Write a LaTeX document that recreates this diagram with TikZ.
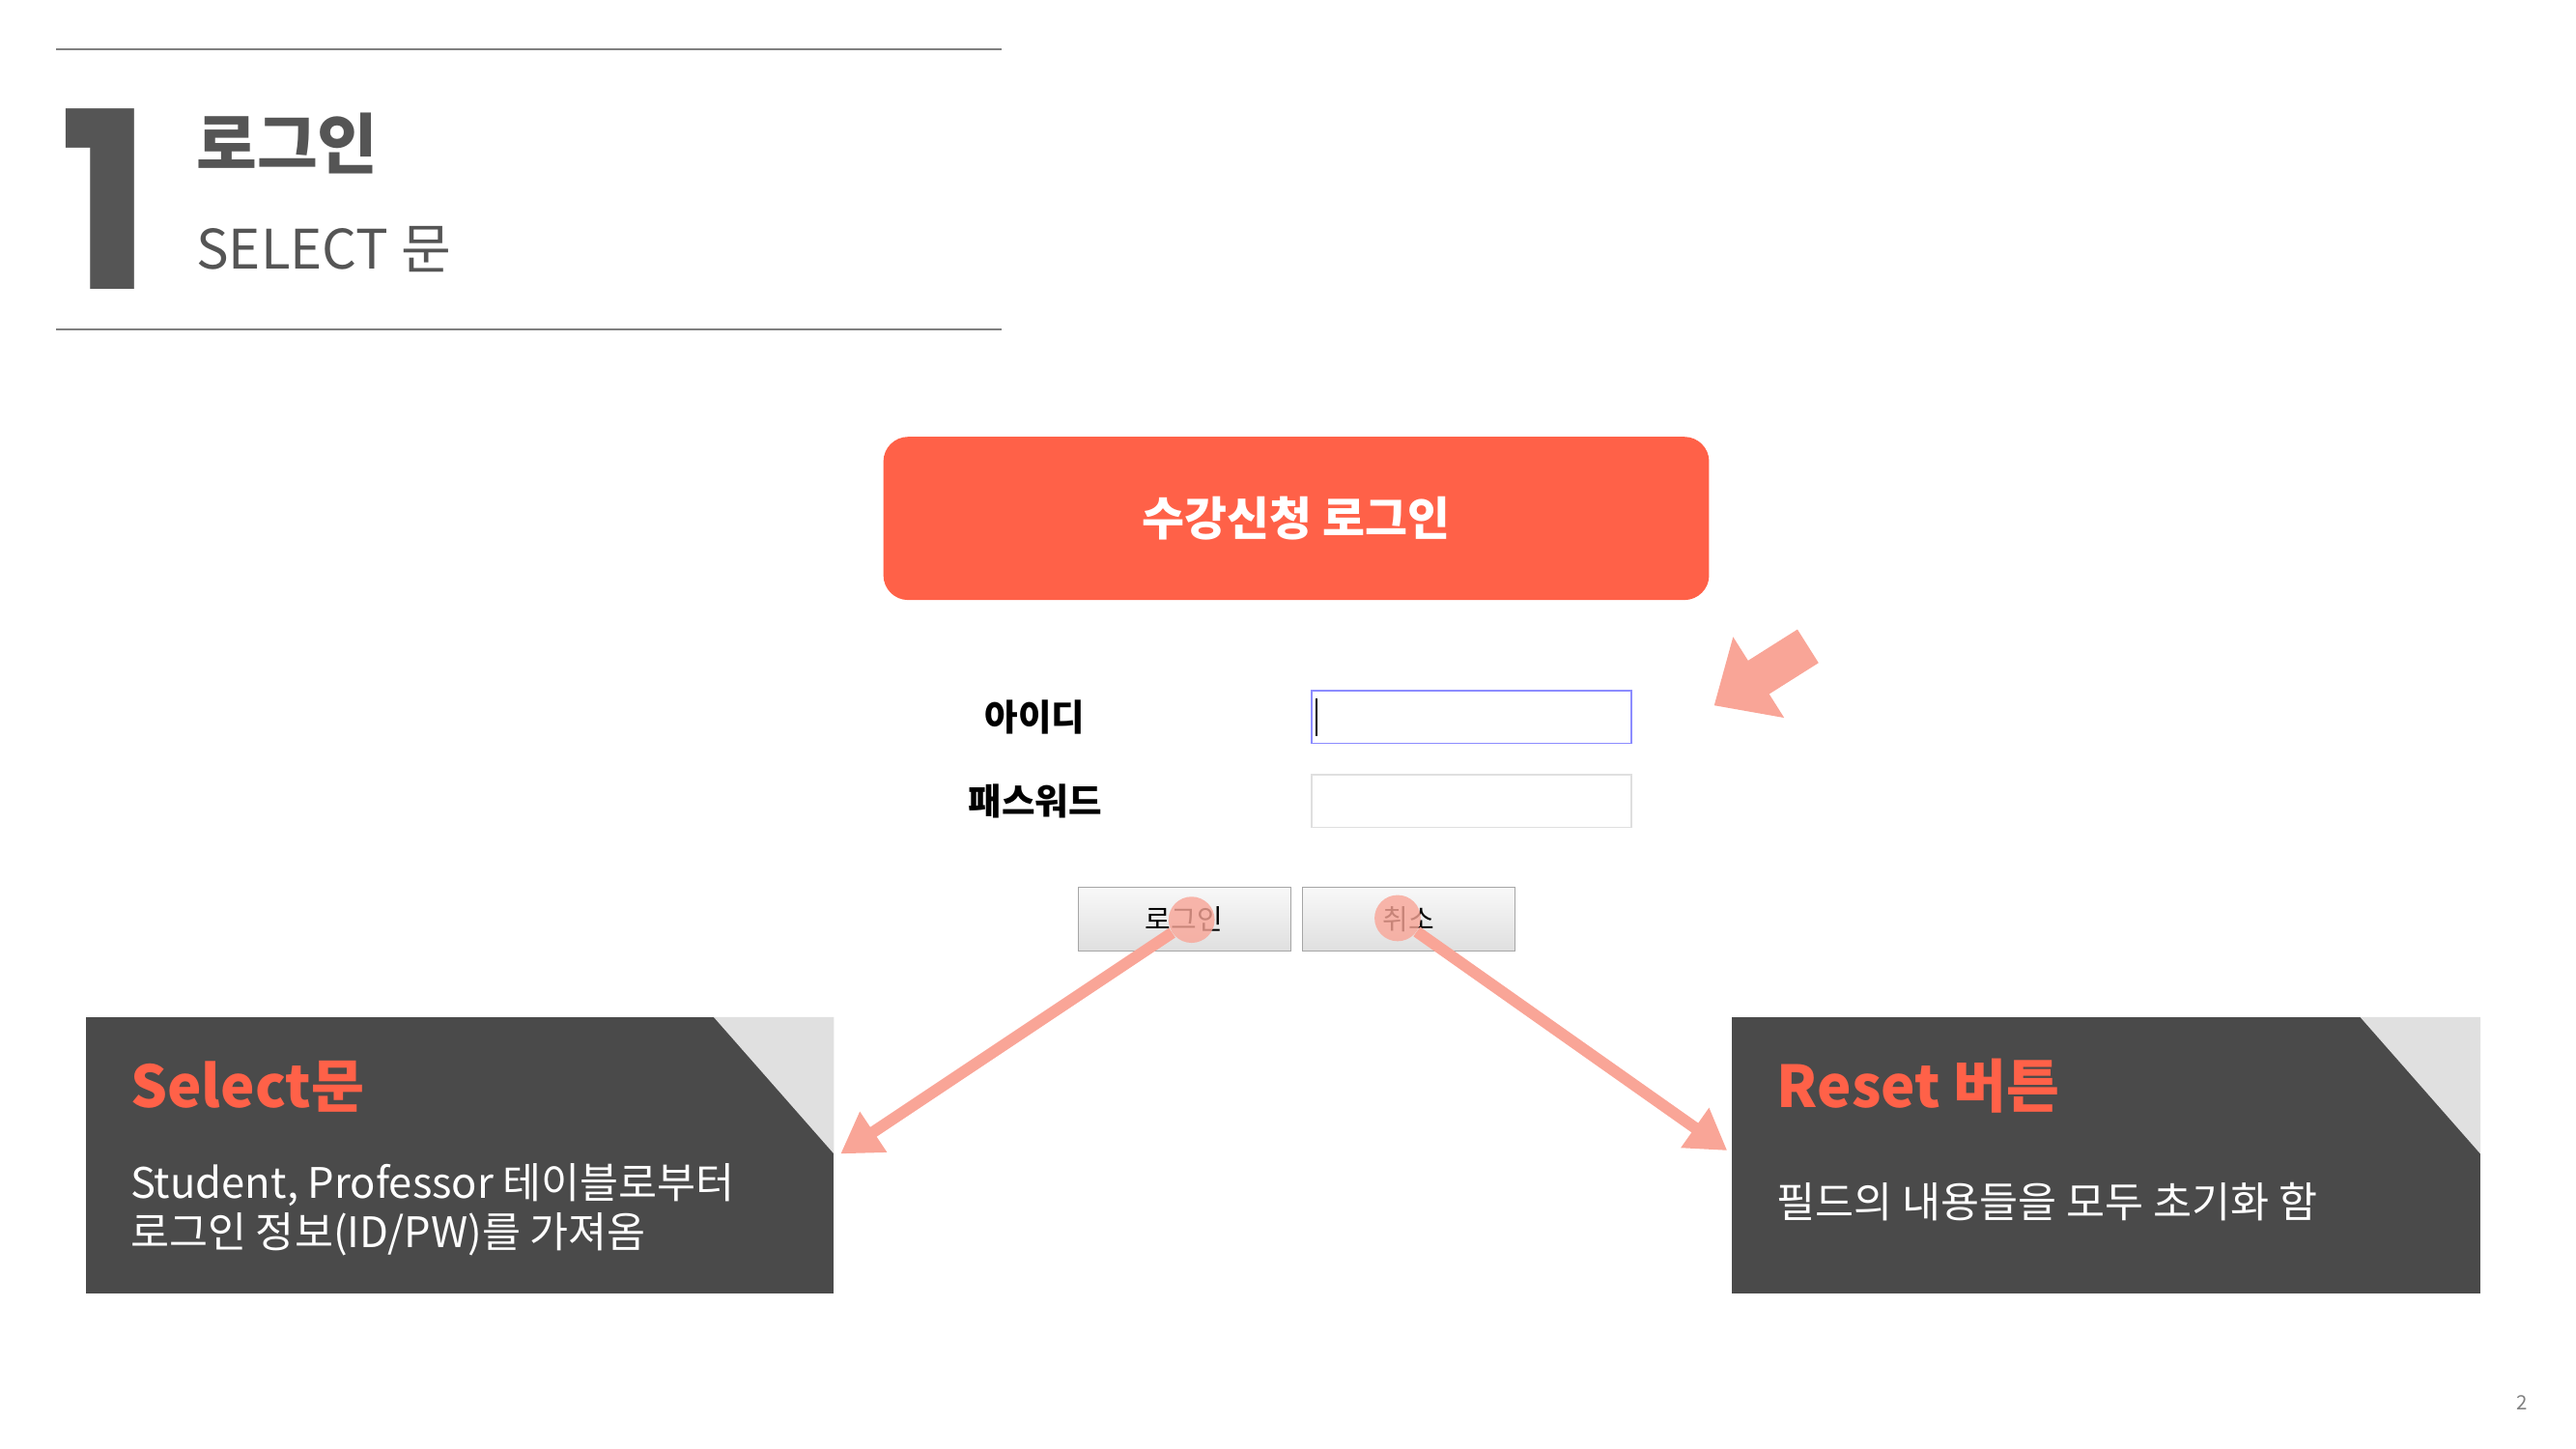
\documentclass[tikz,border=0pt]{standalone}
\usepackage{fontspec}
\setmainfont{Noto Sans CJK KR}
\newfontfamily\onefont{Poppins}[UprightFont=* Bold]
\usetikzlibrary{arrows.meta}
\definecolor{tomatoc}{HTML}{FF6148}
\definecolor{darkbox}{HTML}{4A4A4A}
\definecolor{foldc}{HTML}{E0E0E0}
\definecolor{pinkc}{HTML}{F9A597}
\definecolor{grayt}{HTML}{555555}
\tikzset{
  hd/.style={anchor=west,inner sep=0pt,font=\fontsize{35}{35}\selectfont\bfseries,text=tomatoc},
  bd/.style={anchor=west,inner sep=0pt,font=\fontsize{25.5}{30}\selectfont,text=white,align=left},
  lbl/.style={inner sep=0pt,font=\fontsize{22}{22}\selectfont\bfseries},
  inbox/.style={draw=#1,line width=1pt,minimum width=194pt,minimum height=32pt,inner sep=0pt},
  btn/.style={draw=gray!70,top color=gray!5,bottom color=gray!25,minimum width=129pt,minimum height=39pt,inner sep=0pt,font=\fontsize{17}{17}\selectfont},
  spot/.style={circle,fill=pinkc,fill opacity=0.8,minimum size=28pt,inner sep=0pt},
  parr/.style={draw=pinkc,line width=7pt,-{Triangle[width=28pt,length=24pt]}}
}
\begin{document}
\begin{tikzpicture}[x=1pt,y=-1pt]
\useasboundingbox (0,0) rectangle (1563,879);
\draw[gray,line width=1pt] (34,30) -- (608,30);
\draw[gray,line width=1pt] (34,200) -- (608,200);
\node[inner sep=0pt,anchor=center,text=grayt,font=\onefont\fontsize{150}{150}\selectfont] (one) at (64,121) {1};
\node[anchor=west,inner sep=0pt,text=grayt,font=\fontsize{40}{40}\selectfont\bfseries] (t1) at (119,87) {로그인};
\node[anchor=west,inner sep=0pt,text=grayt,font=\fontsize{33}{33}\selectfont] (t2) at (119,151) {SELECT 문};

\node[fill=tomatoc,rounded corners=15pt,minimum width=501pt,minimum height=99pt,text=white,font=\fontsize{28}{28}\selectfont\bfseries] (title) at (786.5,314.5) {수강신청 로그인};

\coordinate (ba) at (1097,392);
\coordinate (bb) at (1040,428);
\draw[draw=pinkc,line width=24pt,-{Triangle[width=56pt,length=32pt]}] (ba) -- (bb);

\node[lbl] (id) at (628,435) {아이디};
\node[lbl] (pw) at (628,486) {패스워드};
\node[inbox=blue!45] (idbox) at (893,435) {};
\draw[black,line width=1.2pt] ([xshift=3pt,yshift=5pt]idbox.south west) -- ([xshift=3pt,yshift=-5pt]idbox.north west);
\node[inbox=gray!25] (pwbox) at (893,486) {};

\node[btn] (login) at (718.5,557.5) {로그인};
\node[btn] (cancel) at (854.5,557.5) {취소};
\node[spot] (s1) at (723,558) {};
\node[spot] (s2) at (848,557) {};

\fill[darkbox] (52,617) rectangle (506,785);
\fill[foldc] (433,617) -- (506,617) -- (506,700) -- cycle;
\fill[darkbox] (1051,617) rectangle (1505,785);
\fill[foldc] (1432,617) -- (1505,617) -- (1505,700) -- cycle;
\coordinate (lt) at (510,700);
\coordinate (rt) at (1048,698);
\draw[parr] (s1) -- (lt);
\draw[parr] (s2) -- (rt);

\node[hd] (h1) at (79,659) {Select문};
\node[bd] (b1) at (79,734) {Student, Professor 테이블로부터\\로그인 정보(ID/PW)를 가져옴};
\node[hd] (h2) at (1078,659) {Reset 버튼};
\node[bd] (b2) at (1078,729) {필드의 내용들을 모두 초기화 함};

\node[inner sep=0pt,text=gray,font=\fontsize{12}{12}\selectfont] (pg) at (1530,851) {2};
\end{tikzpicture}
\end{document}
